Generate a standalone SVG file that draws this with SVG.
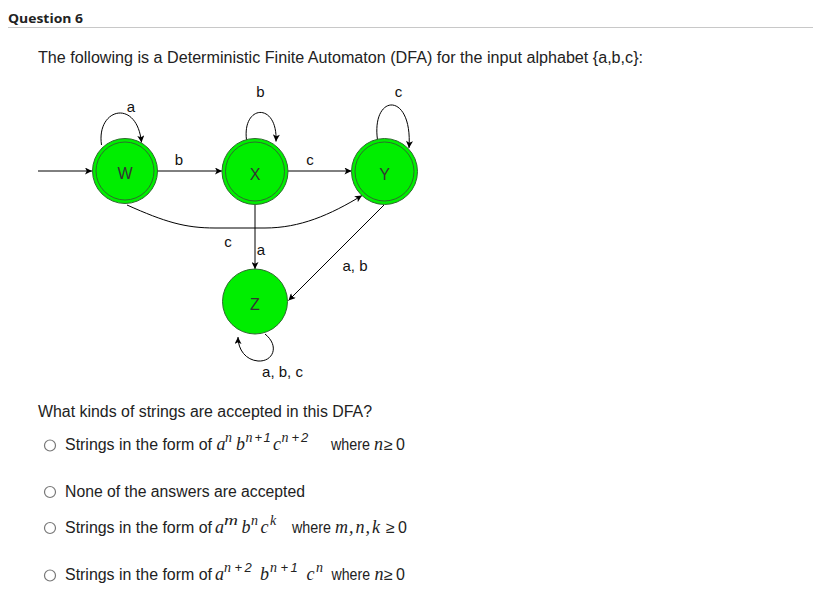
<svg xmlns="http://www.w3.org/2000/svg" width="813" height="607" viewBox="0 0 813 607">
<defs>
<marker id="arr" viewBox="0 0 10 10" refX="10" refY="5" markerWidth="8" markerHeight="7" markerUnits="userSpaceOnUse" orient="auto">
<path d="M0,0 L10,5 L0,10 L2.5,5 Z" fill="#000"/>
</marker>
<style>
.q{font-family:"Liberation Sans",Arial,sans-serif;font-size:16px;fill:#222}
.h{font-family:"Open Sans","DejaVu Sans",sans-serif;font-size:13px;font-weight:bold;fill:#222}
.m{font-family:"Liberation Serif",serif;font-style:italic;font-size:18px;fill:#222}
.s{font-family:"Liberation Sans",sans-serif;font-size:13px;fill:#222}
.si{font-family:"Liberation Serif",serif;font-style:italic;font-size:14px;fill:#222}
.lbl{font-family:"Liberation Sans",Arial,sans-serif;font-size:15px;fill:#111;text-anchor:middle}
.nl{font-family:"Liberation Sans",Arial,sans-serif;font-size:16px;fill:#333;text-anchor:middle}
.outer{fill:#0e0;stroke:#2f6a2f;stroke-width:1}
.inner{fill:none;stroke:#2f6a2f;stroke-width:1}
.e{fill:none;stroke:#000;stroke-width:1}
.radio{fill:#fff;stroke:#777;stroke-width:1.2}
</style>
</defs>
<rect width="813" height="607" fill="#fff"/>
<text class="h" x="8" y="22.5" textLength="75" lengthAdjust="spacingAndGlyphs">Question 6</text>
<line x1="8" y1="27.5" x2="813" y2="27.5" stroke="#c8c8c8" stroke-width="1"/>
<text class="q" x="38" y="63" textLength="605" lengthAdjust="spacingAndGlyphs">The following is a Deterministic Finite Automaton (DFA) for the input alphabet {a,b,c}:</text>

<g id="connectors">
<path class="e" d="M38,171 L92,171" marker-end="url(#arr)"/>
<path class="e" d="M157.5,171 L222,171" marker-end="url(#arr)"/>
<path class="e" d="M288,171 L351.5,171" marker-end="url(#arr)"/>
<path class="e" d="M101.5,145 C96,108 137,98 141.5,142.5" marker-end="url(#arr)"/>
<path class="e" d="M246.5,140 C242,104 278,102 276,141.5" marker-end="url(#arr)"/>
<path class="e" d="M377.5,140 C371,93 413,91 409,148" marker-end="url(#arr)"/>
<path class="e" d="M127,205 C165,222 185,228 215,228 L265,228 C300,228 330,215 362,195.5" marker-end="url(#arr)"/>
<path class="e" d="M255,205 L255,269" marker-end="url(#arr)"/>
<path class="e" d="M384,205 L288.5,300.5" stroke-width="0.8" marker-end="url(#arr)"/>
<path class="e" d="M265,334 C280,346 273,362 258,361 C246,360 238,350 238,337" marker-end="url(#arr)"/>
<text class="lbl" x="131" y="112">a</text>
<text class="lbl" x="179" y="165">b</text>
<text class="lbl" x="260.5" y="97">b</text>
<text class="lbl" x="310" y="165">c</text>
<text class="lbl" x="398.5" y="97">c</text>
<text class="lbl" x="228" y="246.5">c</text>
<text class="lbl" x="261" y="255">a</text>
<text class="lbl" x="355" y="271">a, b</text>
<text class="lbl" x="282.5" y="377">a, b, c</text>
</g>

<g id="W">
<circle class="outer" cx="125" cy="171" r="32.5"/>
<circle class="inner" cx="125" cy="171" r="29"/>
<text class="nl" x="125" y="179">W</text>
</g>
<g id="X">
<circle class="outer" cx="255" cy="171.5" r="33"/>
<circle class="inner" cx="255" cy="171.5" r="29.5"/>
<text class="nl" x="255" y="179.5">X</text>
</g>
<g id="Y">
<circle class="outer" cx="384.5" cy="171.5" r="33"/>
<circle class="inner" cx="384.5" cy="171.5" r="29.5"/>
<text class="nl" x="384.5" y="179.5">Y</text>
</g>
<g id="Z">
<circle class="outer" cx="255" cy="301.5" r="32.5"/>
<text class="nl" x="255" y="309.5">Z</text>
</g>

<text class="q" x="38" y="417" textLength="334" lengthAdjust="spacingAndGlyphs">What kinds of strings are accepted in this DFA?</text>

<circle class="radio" cx="50" cy="445.5" r="5.5"/>
<text class="q" x="65" y="450" textLength="147" lengthAdjust="spacingAndGlyphs">Strings in the form of</text>
<text class="m" x="216.5" y="450">a</text>
<text class="si" x="225" y="442">n</text>
<text class="m" x="236" y="450">b</text>
<text class="si" x="245.5" y="442">n<tspan class="s" dx="2">+</tspan><tspan class="s" dx="1.5">1</tspan></text>
<text class="m" x="273" y="450">c</text>
<text class="si" x="281.5" y="442">n<tspan class="s" dx="3">+</tspan><tspan class="s" dx="2">2</tspan></text>
<text class="q" x="331" y="450" textLength="39" lengthAdjust="spacingAndGlyphs">where</text>
<text class="m" x="374" y="450">n</text>
<text class="q" x="384" y="450">≥</text>
<text class="q" x="396" y="450">0</text>

<circle class="radio" cx="50" cy="492" r="5.5"/>
<text class="q" x="65" y="497" textLength="240" lengthAdjust="spacingAndGlyphs">None of the answers are accepted</text>

<circle class="radio" cx="50" cy="528" r="5.5"/>
<text class="q" x="65" y="532.5" textLength="147" lengthAdjust="spacingAndGlyphs">Strings in the form of</text>
<text class="m" x="215" y="532.5">a</text>
<text class="si" x="224" y="524.5" textLength="14" lengthAdjust="spacingAndGlyphs">m</text>
<text class="m" x="241.5" y="532.5">b</text>
<text class="si" x="251" y="524.5">n</text>
<text class="m" x="260.5" y="532.5">c</text>
<text class="si" x="270" y="524.5">k</text>
<text class="q" x="292" y="532.5" textLength="39" lengthAdjust="spacingAndGlyphs">where</text>
<text class="m" x="335" y="532.5">m<tspan dx="1">,</tspan><tspan dx="2">n</tspan><tspan dx="1">,</tspan><tspan dx="2">k</tspan></text>
<text class="q" x="386" y="532.5">≥</text>
<text class="q" x="398" y="532.5">0</text>

<circle class="radio" cx="50" cy="575.5" r="5.5"/>
<text class="q" x="65" y="580" textLength="147" lengthAdjust="spacingAndGlyphs">Strings in the form of</text>
<text class="m" x="215" y="580">a</text>
<text class="si" x="224" y="572">n<tspan class="s" dx="3.5">+</tspan><tspan class="s" dx="2.5">2</tspan></text>
<text class="m" x="260" y="580">b</text>
<text class="si" x="270" y="572">n<tspan class="s" dx="3.5">+</tspan><tspan class="s" dx="2.5">1</tspan></text>
<text class="m" x="306.5" y="580">c</text>
<text class="si" x="316" y="572">n</text>
<text class="q" x="331.5" y="580" textLength="38.5" lengthAdjust="spacingAndGlyphs">where</text>
<text class="m" x="374.5" y="580">n</text>
<text class="q" x="384" y="580">≥</text>
<text class="q" x="396" y="580">0</text>
</svg>
